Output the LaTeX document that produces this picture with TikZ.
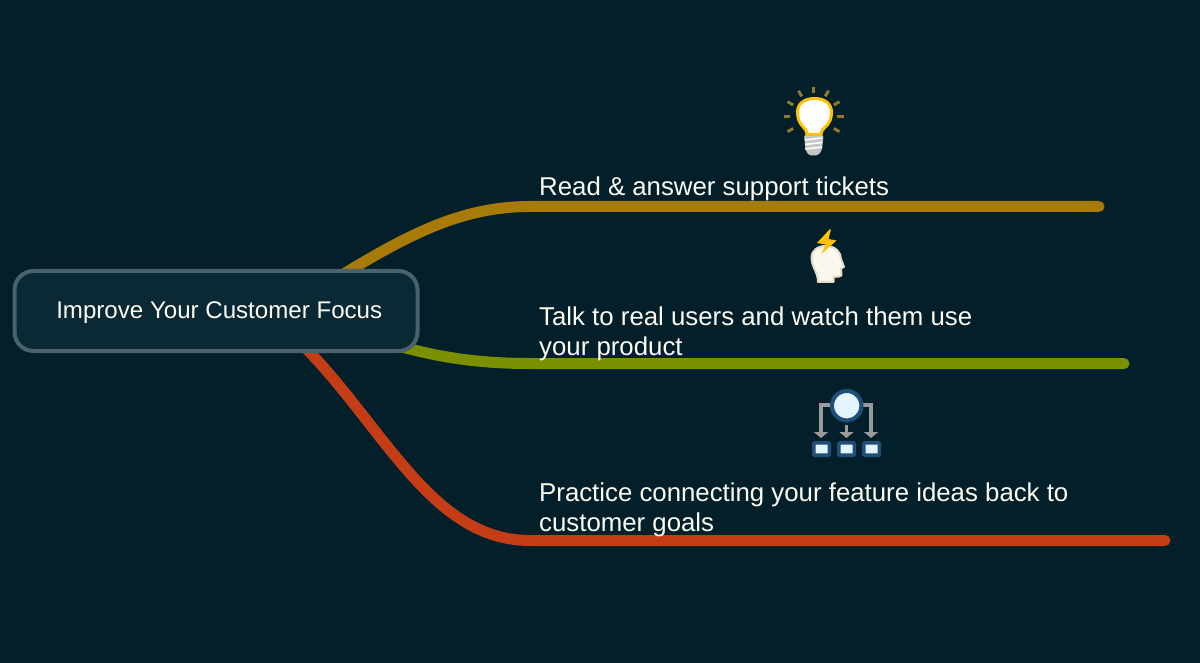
\documentclass[tikz,border=0pt]{standalone}
\usepackage{fontspec}
\setmainfont{Liberation Sans}
\usetikzlibrary{backgrounds,arrows.meta}
\definecolor{bgc}{HTML}{03202A}
\definecolor{boxf}{HTML}{0A2934}
\definecolor{boxb}{HTML}{4A626C}
\definecolor{goldb}{HTML}{A87A08}
\definecolor{oliveb}{HTML}{7A9000}
\definecolor{redb}{HTML}{C43D17}
\definecolor{txt}{HTML}{FBFBF2}
\definecolor{bulb}{HTML}{FFC107}
\definecolor{ray}{HTML}{8F7B2C}
\definecolor{blueb}{HTML}{1F4E79}
\definecolor{pale}{HTML}{E3F6FF}
\definecolor{grayc}{HTML}{9A9A9A}
\definecolor{headb}{HTML}{E6DCC3}
\definecolor{headf}{HTML}{FBF8F0}
\tikzset{
  px/.style={x=1pt,y=-1pt},
  centerbox/.style={draw=boxb,fill=boxf,line width=4pt,rounded corners=19pt,minimum width=403pt,minimum height=80pt,text=txt,font=\fontsize{24.1}{28}\selectfont,inner sep=0pt,text height=19pt,text depth=3pt},
  label/.style={anchor=base west,text=txt,font=\fontsize{25.8}{30}\selectfont,inner sep=0pt},
  branch/.style={line width=11pt,line cap=round},
  rayline/.style={draw=ray,line width=3pt},
  flow/.style={draw=grayc,line width=3.2pt,-{Triangle[length=6pt,width=14pt]}},
  boxicon/.style={draw=blueb,fill=pale,line width=3.6pt,rounded corners=1pt},
}
\begin{document}
\begin{tikzpicture}[px]
\useasboundingbox (0,0) rectangle (1200,663);
\node[centerbox] (center) at (216,311) {\hspace*{6.5pt}Improve Your Customer Focus};
\coordinate (o1) at (300,301);
\coordinate (o2) at (380,341);
\coordinate (o3) at (270,315);
\coordinate (b1a) at (530,206.5);
\coordinate (b1b) at (1099,206.5);
\coordinate (b2a) at (530,363.5);
\coordinate (b2b) at (1124,363.5);
\coordinate (b3a) at (530,540.5);
\coordinate (b3b) at (1165,540.5);
\begin{scope}[on background layer]
\fill[bgc] (0,0) rectangle (1200,663);
\draw[branch,goldb] (o1) .. controls (390,245) and (450,206.5) .. (b1a) -- (b1b);
\draw[branch,oliveb] (o2) .. controls (420,352) and (460,363.5) .. (b2a) -- (b2b);
\draw[branch,redb] (o3) .. controls (375,400) and (420,540.5) .. (b3a) -- (b3b);
\end{scope}
\node[label] (t1) at (539,196) {Read \& answer support tickets};
\node[label] (t2a) at (539,325) {Talk to real users and watch them use};
\node[label] (t2b) at (539,355) {your product};
\node[label] (t3a) at (539,501) {Practice connecting your feature ideas back to};
\node[label] (t3b) at (539,531) {customer goals};
% bulb icon
\foreach \a in {90,60,120,30,150,0,180,-30,-150}{
  \draw[rayline] (813.5,116.7) ++(\a:23.5pt) -- ++(\a:6.5pt);
}
\fill[gray!45,rounded corners=2pt] (804,135) -- (823.5,135) -- (822,150) -- (818,155.5) -- (809,155.5) -- (805.5,150) -- cycle;
\foreach \yy in {140,144.5,149}{\draw[white,line width=1.5pt] (805,\yy) -- (822,\yy-2);}
\draw[bulb,line width=3pt,fill=white,line join=round] (807,134.5) .. controls (807,128) and (801,127) .. (798.8,120)
  .. controls (797.8,117) and (797.5,115) .. (797.5,112)
  .. controls (797.5,104) and (804,98.5) .. (814.5,98.5)
  .. controls (825,98.5) and (831.5,104) .. (831.5,112)
  .. controls (831.5,115) and (831.2,117) .. (830.2,120)
  .. controls (828,127) and (821,128) .. (821,134.5) -- cycle;
% head icon
\draw[draw=headb,fill=headf,line width=2pt,line join=round]
 (818,282) .. controls (818,272) and (812,268) .. (811.5,258)
 .. controls (811.5,250) and (818,246) .. (826,246)
 .. controls (835,246) and (841,252) .. (841,259)
 -- (844,267) -- (841,268.5) -- (841.5,275) .. controls (840.5,277) and (836,277) .. (833.5,276.5) -- (833.5,282) -- cycle;
\fill[bulb] (829.5,229.5) -- (817,243) -- (825.5,244.5) -- (821.5,254) -- (836.5,240.5) -- (828.5,239) -- (831,229.5) -- cycle;
% workflow icon
\draw[flow] (835,405) -- (821,405) -- (821,438);
\draw[flow] (858,405) -- (871,405) -- (871,438);
\draw[flow] (846.5,425) -- (846.5,438);
\draw[draw=blueb,fill=pale,line width=4pt] (846.7,405.7) circle (14.7pt);
\draw[boxicon] (813.8,442.8) rectangle (829.3,455.2);
\draw[boxicon] (838.8,442.8) rectangle (854.3,455.2);
\draw[boxicon] (863.8,442.8) rectangle (879.3,455.2);
\end{tikzpicture}
\end{document}
